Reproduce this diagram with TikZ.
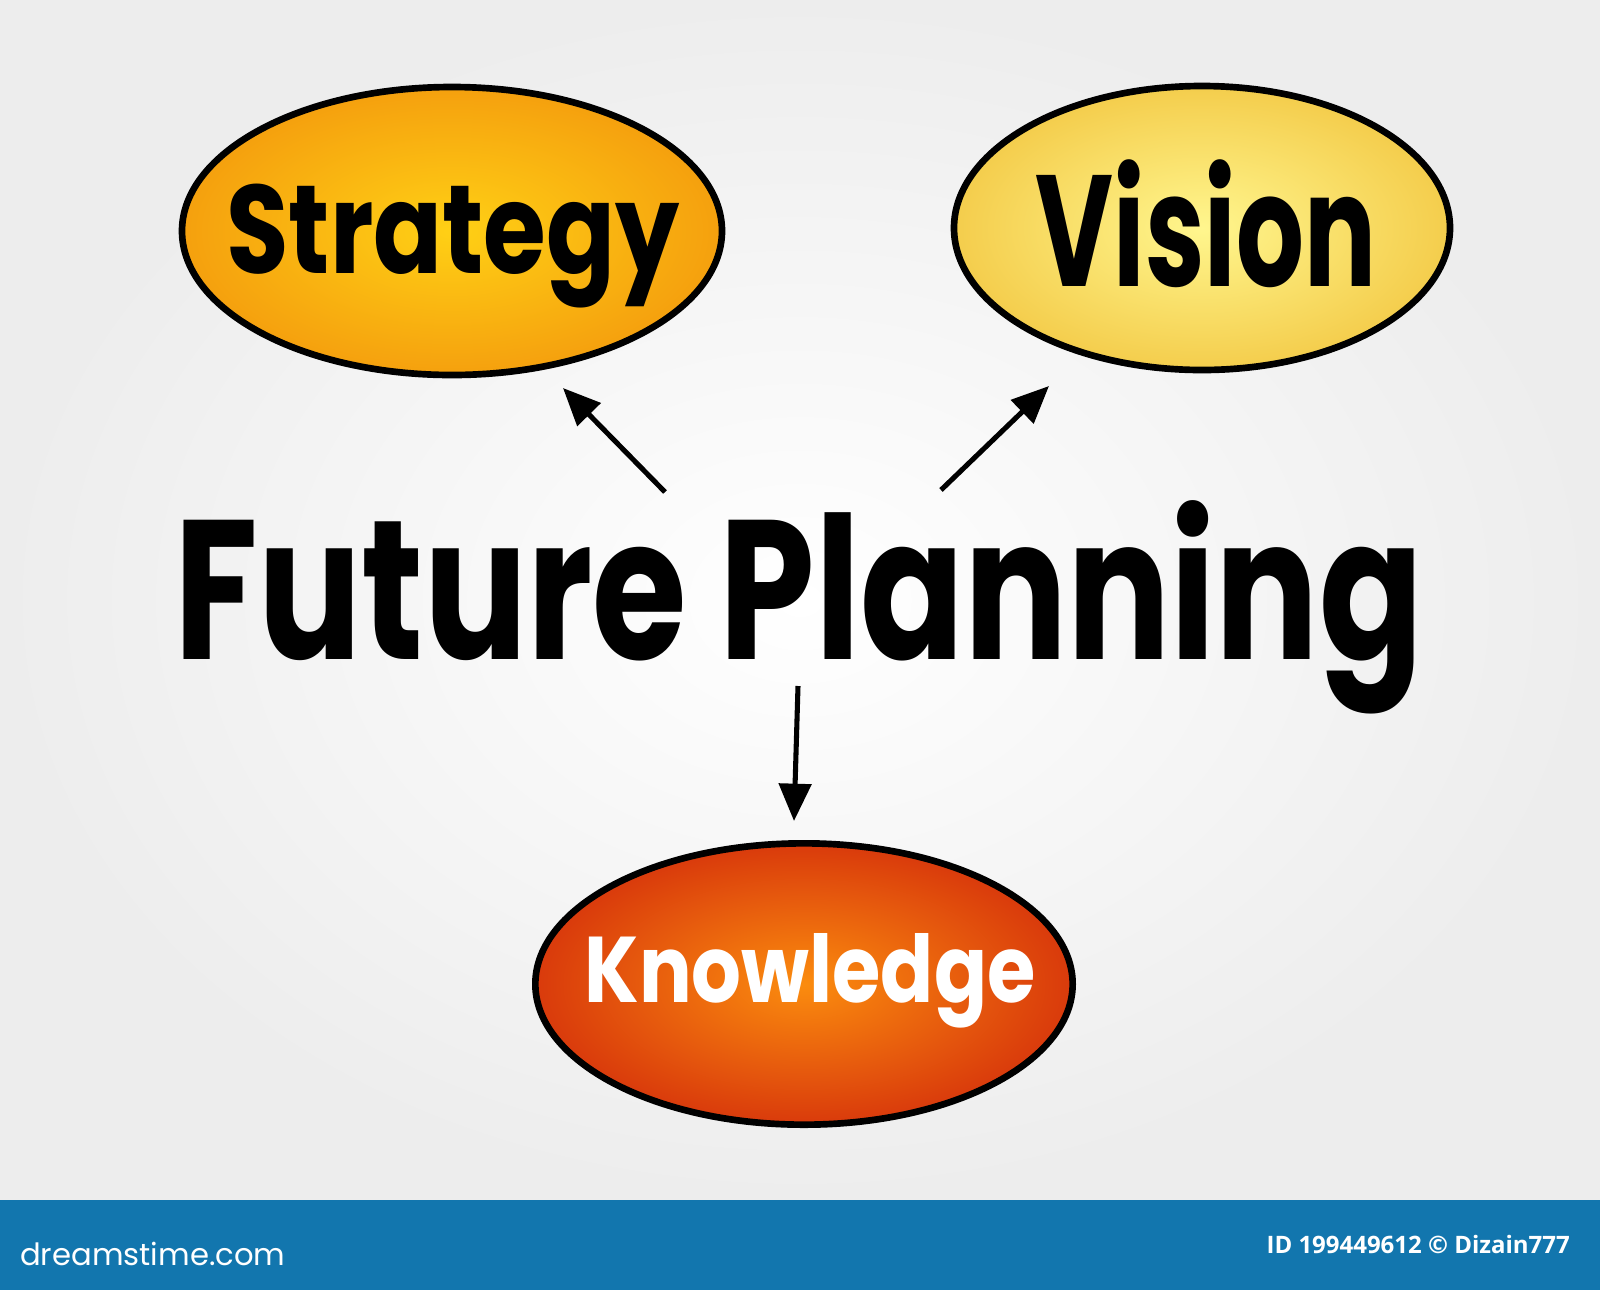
\documentclass[tikz,border=0pt]{standalone}
\usepackage{fontspec}
\usepackage{graphicx}
\setmainfont{Poppins}
\newfontfamily\idfont{Open Sans}
\usetikzlibrary{shapes.geometric,arrows.meta,positioning}

\definecolor{strategyout}{HTML}{F5A00E}
\definecolor{strategyin}{HTML}{FFD015}
\definecolor{visionout}{HTML}{F4CD4C}
\definecolor{visionin}{HTML}{FFF68E}
\definecolor{knowout}{HTML}{D93A0C}
\definecolor{knowin}{HTML}{FB8C0E}
\definecolor{banner}{HTML}{1276AE}
\definecolor{paper}{HTML}{EDEDED}

\begin{document}
\begin{tikzpicture}[x=0.75pt,y=-0.75pt,
    bubble/.style={ellipse,draw=black,line width=5pt},
    sketcharrow/.style={line width=3.8pt,-{Triangle[length=28pt,width=24pt]}},
    word/.style={inner sep=0pt,font=\bfseries}]
    % Background and banner
    \useasboundingbox (0,0) rectangle (1600,1290);
    \shade[inner color=white,outer color=paper] (0,0) rectangle (1600,1200);
    \fill[banner] (0,1200) rectangle (1600,1290);

    % Bubbles
    \node[bubble,inner color=strategyin,outer color=strategyout,minimum width=405pt,minimum height=216pt] (strategy) at (452,231) {};
    \node[bubble,inner color=visionin,outer color=visionout,minimum width=372pt,minimum height=213pt] (vision) at (1202,228) {};
    \node[bubble,inner color=knowin,outer color=knowout,minimum width=403pt,minimum height=211pt] (knowledge) at (804,984) {};

    % Texts
    \node[word] (strategy-text) at (453,246) {\resizebox*{340pt}{93pt}{Strategy}};
    \node[word] (vision-text) at (1206,224) {\resizebox*{255pt}{96pt}{Vision}};
    \node[word,text=white] (knowledge-text) at (810,981) {\resizebox*{338pt}{71pt}{Knowledge}};
    \node[word] (future) at (799,607) {\resizebox*{936pt}{160pt}{Future Planning}};

    % Arrows
    \coordinate (s-tail) at (665,492);
    \coordinate (s-tip) at (563,388);
    \coordinate (v-tail) at (941,490);
    \coordinate (v-tip) at (1049,386);
    \coordinate (k-tail) at (798,686);
    \coordinate (k-tip) at (794,821);
    \draw[sketcharrow] (s-tail) -- (s-tip);
    \draw[sketcharrow] (v-tail) -- (v-tip);
    \draw[sketcharrow] (k-tail) -- (k-tip);

    % Banner texts
    \node[anchor=west,inner sep=0pt,text=white,font=\fontsize{23}{23}\selectfont] (site) at (20,1254) {dreamstime.com};
    \node[anchor=east,inner sep=0pt,text=white,font=\idfont\bfseries\fontsize{18}{18}\selectfont] (credit) at (1570,1244) {ID 199449612 © Dizain777};
\end{tikzpicture}
\end{document}
